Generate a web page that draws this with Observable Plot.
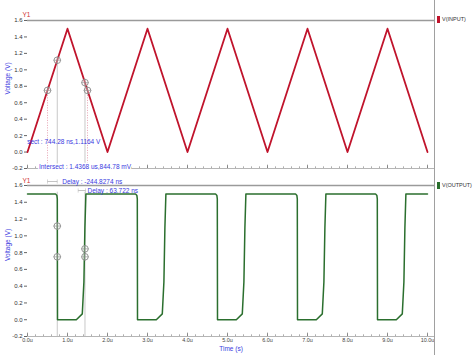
<!DOCTYPE html>
<html>
<head>
<meta charset="utf-8">
<script src="https://cdn.jsdelivr.net/npm/d3@7"></script>
<script src="https://cdn.jsdelivr.net/npm/@observablehq/plot@0.6"></script>
<style>
  html, body { margin: 0; padding: 0; background: #fff; }
  #wrap { position: relative; width: 474px; height: 355px; overflow: hidden; background: #fff; font-family: "Liberation Sans", sans-serif; }
  #wrap svg { position: absolute; left: 0; }
  .leg { position: absolute; left: 437px; font-size: 5.5px; color: #333; white-space: nowrap; }
  .leg i { display: inline-block; width: 3px; height: 7px; vertical-align: middle; margin-right: 2px; }
</style>
</head>
<body>
<div id="wrap"></div>
<script>
// ---- data ----
const inputT = [0, 1, 2, 3, 4, 5, 6, 7, 8, 9, 10];
const inputV = [0, 1.5, 0, 1.5, 0, 1.5, 0, 1.5, 0, 1.5, 0];

const outputT = [0,
  0.70, 0.735, 0.745, 0.75, 1.22, 1.37, 1.41, 1.435, 1.46,
  2.70, 2.735, 2.745, 2.75, 3.22, 3.37, 3.41, 3.435, 3.46,
  4.70, 4.735, 4.745, 4.75, 5.22, 5.37, 5.41, 5.435, 5.46,
  6.70, 6.735, 6.745, 6.75, 7.22, 7.37, 7.41, 7.435, 7.46,
  8.70, 8.735, 8.745, 8.75, 9.22, 9.37, 9.41, 9.435, 9.46,
  10.0];
const outputV = [1.5,
  1.5, 1.48, 1.44, 0, 0, 0.07, 0.45, 1.1, 1.5,
  1.5, 1.48, 1.44, 0, 0, 0.07, 0.45, 1.1, 1.5,
  1.5, 1.48, 1.44, 0, 0, 0.07, 0.45, 1.1, 1.5,
  1.5, 1.48, 1.44, 0, 0, 0.07, 0.45, 1.1, 1.5,
  1.5, 1.48, 1.44, 0, 0, 0.07, 0.45, 1.1, 1.5,
  1.5];

const cursorT = [0.744, 1.4368];
const cursorInV = [1.1164, 0.8448];
const refT = [0.5, 1.5];
const refV = 0.75;
const intersectLabels = ["Intersect : 744.28 ns,1.1164 V", "Intersect : 1.4368 us,844.78 mV"];
const delayLabels = ["Delay : -244.8274 ns", "Delay : 63.722 ns"];

const yTicks = [-0.2, 0, 0.2, 0.4, 0.6, 0.8, 1.0, 1.2, 1.4, 1.6];
const xMajor = [0, 1, 2, 3, 4, 5, 6, 7, 8, 9, 10];
const xMinor = d3.range(0, 10.01, 0.2);
const xTickLabels = ["0.0u","1.0u","2.0u","3.0u","4.0u","5.0u","6.0u","7.0u","8.0u","9.0u","10.0u"];

const inputData = inputT.map((t, i) => ({t, v: inputV[i]}));
const outputData = outputT.map((t, i) => ({t, v: outputV[i]}));
const inPts = [
  {t: refT[0], v: refV}, {t: cursorT[0], v: cursorInV[0]},
  {t: cursorT[1], v: cursorInV[1]}, {t: refT[1], v: refV}
];
const outPts = [
  {t: cursorT[0], v: cursorInV[0]}, {t: cursorT[0], v: refV},
  {t: cursorT[1], v: cursorInV[1]}, {t: cursorT[1], v: refV}
];

const RED = "#c0142c";
const GREEN = "#2b6f2e";
const BLUE = "#3a3ae0";
const FONT = "Liberation Sans";
const xDomain = [0, 10.175];
const yDomain = [-0.2, 1.6];
const fmtY = d => d.toFixed(1);

function common(extra) {
  return Object.assign({
    width: 474,
    marginLeft: 27,
    marginRight: 40,
    x: {domain: xDomain, axis: null},
    y: {domain: yDomain, axis: null},
    style: {background: "transparent", fontFamily: FONT, fontSize: "6px", overflow: "visible", color: "#333"}
  }, extra);
}

function frameMarks() {
  return [
    Plot.axisY(yTicks, {tickFormat: fmtY, tickSize: 3, tickPadding: 2, fontSize: 6, stroke: "#666", label: null}),
    Plot.ruleY([1.6], {stroke: "#9a9a9a", strokeWidth: 1.5}),
    Plot.ruleY([-0.2], {stroke: "#b5b5b5", strokeWidth: 1}),
    Plot.ruleX(xMinor, {y1: -0.2, y2: -0.18, stroke: "#999", strokeWidth: 0.8}),
    Plot.ruleX(xMajor, {y1: -0.2, y2: -0.16, stroke: "#777", strokeWidth: 0.8})
  ];
}

// ---- top panel ----
const topPlot = Plot.plot(common({
  height: 178,
  marginTop: 20,
  marginBottom: 10,
  marks: [
    ...frameMarks(),
    Plot.ruleX([refT[0], refT[1]], {y1: refV, y2: -0.2, stroke: "#e7a3b3", strokeDasharray: "1,1.5"}),
    Plot.ruleX(inPts.filter((d, i) => i === 1 || i === 2), {x: "t", y1: "v", y2: -0.2, stroke: "#c8c8c8"}),
    Plot.line(inputData, {x: "t", y: "v", stroke: RED, strokeWidth: 1.8}),
    Plot.dot(inPts, {x: "t", y: "v", r: 3.3, stroke: "#8a8a8a", strokeWidth: 0.9, fill: "white", fillOpacity: 0.3}),
    Plot.dot(inPts, {x: "t", y: "v", r: 2.6, symbol: "plus", stroke: "#8a8a8a", strokeWidth: 0.6}),
    Plot.text([intersectLabels[0]], {x: cursorT[0], y: 0, dy: -10, fill: BLUE, fontSize: 6.5, textAnchor: "middle", clip: "frame"}),
    Plot.text([intersectLabels[1]], {x: cursorT[1], y: -0.2, dy: -2, fill: BLUE, fontSize: 6.5, textAnchor: "middle", stroke: "white", strokeWidth: 3}),
    Plot.text(["Y1"], {frameAnchor: "top-left", dx: -5, dy: -8, fill: "#d03030", fontSize: 6.5}),
    Plot.text(["Voltage (V)"], {frameAnchor: "left", dx: -20, rotate: -90, fill: BLUE, fontSize: 6.5})
  ]
}));
topPlot.style.top = "0px";
topPlot.style.zIndex = 2;

// ---- bottom panel ----
const bottomPlot = Plot.plot(common({
  height: 185,
  marginTop: 15,
  marginBottom: 19,
  marks: [
    ...frameMarks(),
    Plot.axisX(xMajor, {tickFormat: (d, i) => xTickLabels[i], tickSize: 0, tickPadding: 2, fontSize: 5.5, label: null, fill: "#444"}),
    Plot.ruleX(cursorT, {y1: 1.52, y2: -0.2, stroke: "#c8c8c8"}),
    Plot.line(outputData, {x: "t", y: "v", stroke: GREEN, strokeWidth: 1.5}),
    Plot.dot(outPts, {x: "t", y: "v", r: 3.3, stroke: "#8a8a8a", strokeWidth: 0.9, fill: "white", fillOpacity: 0.3}),
    Plot.dot(outPts, {x: "t", y: "v", r: 2.6, symbol: "plus", stroke: "#8a8a8a", strokeWidth: 0.6}),
    Plot.link([{a: refT[0], b: cursorT[0]}], {x1: "a", x2: "b", y1: 1.6, y2: 1.6, dy: -4, stroke: "#aaa", strokeWidth: 0.7, marker: "tick"}),
    Plot.text([delayLabels[0]], {x: cursorT[0], y: 1.6, dx: 5, dy: -4, fill: BLUE, fontSize: 6.5, textAnchor: "start"}),
    Plot.link([{a: cursorT[1] - 0.17, b: refT[1] - 0.05}], {x1: "a", x2: "b", y1: 1.6, y2: 1.6, dy: 5, stroke: "#aaa", strokeWidth: 0.7, marker: "tick"}),
    Plot.text([delayLabels[1]], {x: refT[1], y: 1.6, dx: 0, dy: 5, fill: BLUE, fontSize: 6.5, textAnchor: "start"}),
    Plot.text(["Y1"], {frameAnchor: "top-left", dx: -5, dy: -7, fill: "#d03030", fontSize: 6.5}),
    Plot.text(["Voltage (V)"], {frameAnchor: "left", dx: -20, rotate: -90, fill: BLUE, fontSize: 6.5}),
    Plot.text(["Time (s)"], {frameAnchor: "bottom", dy: 14.5, fill: BLUE, fontSize: 6.5})
  ]
}));
bottomPlot.style.top = "170px";
bottomPlot.style.zIndex = 1;

const wrap = document.getElementById("wrap");
wrap.appendChild(bottomPlot);
wrap.appendChild(topPlot);

// right border and legends
const border = document.createElement("div");
border.style.cssText = "position:absolute;left:433.5px;top:0;width:1.5px;height:355px;background:#a0a0a0;z-index:3";
wrap.appendChild(border);

const leg1 = document.createElement("div");
leg1.className = "leg";
leg1.style.top = "16px";
leg1.innerHTML = `<i style="background:${RED}"></i>V(INPUT)`;
wrap.appendChild(leg1);
const leg2 = document.createElement("div");
leg2.className = "leg";
leg2.style.top = "182px";
leg2.innerHTML = `<i style="background:${GREEN}"></i>V(OUTPUT)`;
wrap.appendChild(leg2);
</script>
</body>
</html>
